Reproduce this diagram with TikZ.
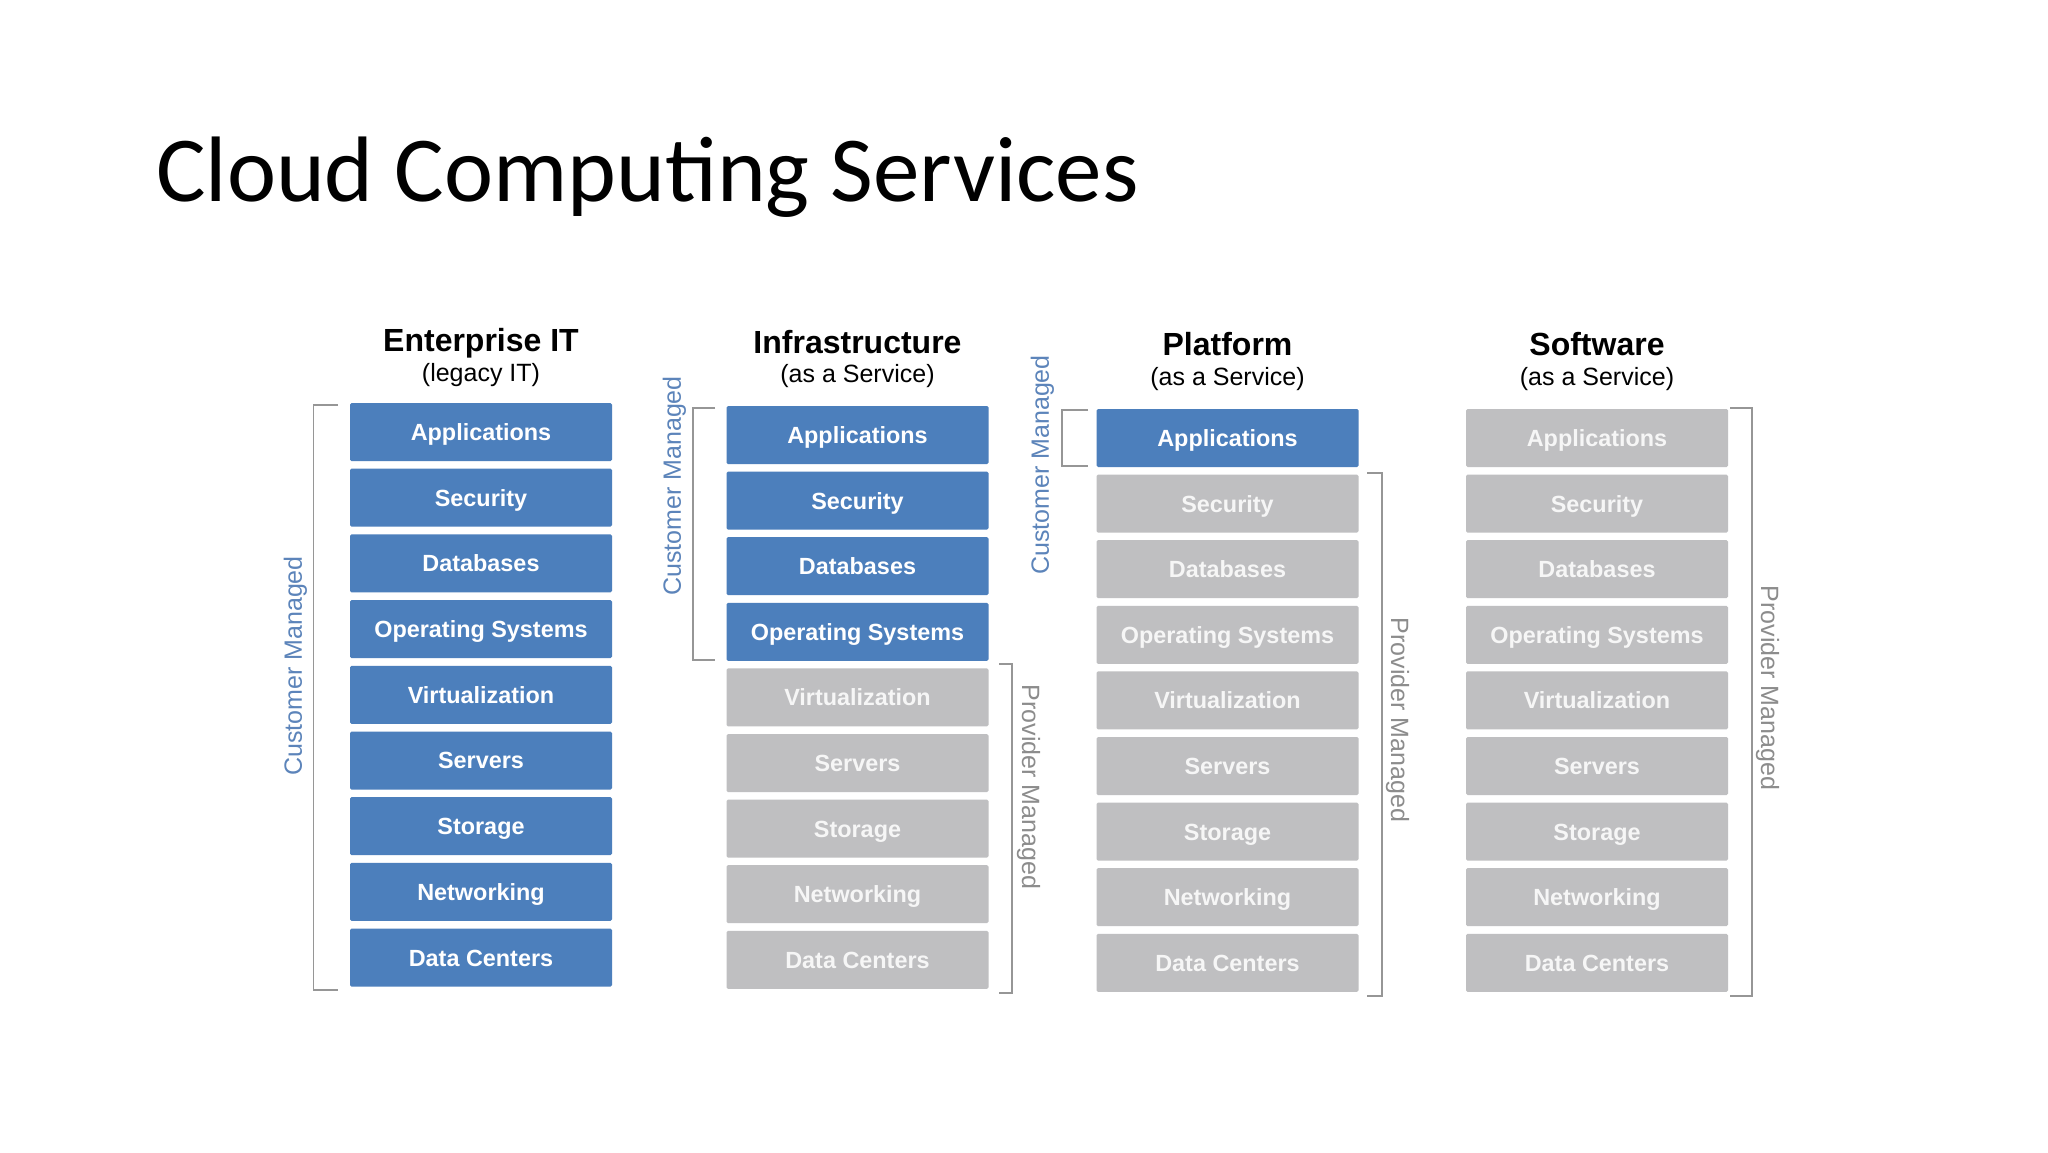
\documentclass[tikz,border=0pt]{standalone}
\usepackage{fontspec}
\setmainfont{Liberation Sans}
\newfontfamily\titlefont{Carlito}
\definecolor{boxblue}{RGB}{76,127,188}
\definecolor{boxgray}{RGB}{191,191,193}
\definecolor{graytext}{RGB}{246,246,246}
\definecolor{bracketgray}{RGB}{150,150,150}
\definecolor{custblue}{RGB}{92,132,186}
\definecolor{provgray}{RGB}{140,140,140}
\begin{document}
\begin{tikzpicture}[x=1pt,y=-1pt,
  layer/.style={minimum width=262pt, minimum height=58pt, inner sep=0pt,
    text height=16.8pt, text depth=0pt, rounded corners=1.5pt,
    font=\fontsize{23.4}{24}\selectfont\bfseries},
  bluelayer/.style={layer, fill=boxblue, text=white},
  graylayer/.style={layer, fill=boxgray, text=graytext},
  head/.style={anchor=base, inner sep=0pt, font=\fontsize{32}{34}\selectfont\bfseries},
  sub/.style={anchor=base, inner sep=0pt, font=\fontsize{25}{27}\selectfont},
  brack/.style={draw=bracketgray, line width=1.6pt},
  sidelabel/.style={inner sep=0pt, text height=17.9pt, text depth=0pt,
    font=\fontsize{25}{27}\selectfont},
  custlabel/.style={sidelabel, text=custblue, rotate=90},
  provlabel/.style={sidelabel, text=provgray, rotate=-90}]
\fill[white] (0,0) rectangle (2048,1152);
\useasboundingbox (0,0) rectangle (2048,1152);

% title
\node[anchor=base west, inner sep=0pt, font=\titlefont\fontsize{93}{100}\selectfont]
  (title) at (156,201) {Cloud Computing Services};

% headers
\node[head] (h1) at (481,351) {Enterprise IT};
\node[sub]  (s1) at (481,381) {(legacy IT)};
\node[head] (h2) at (857.5,353) {Infrastructure};
\node[sub]  (s2) at (857.5,382) {(as a Service)};
\node[head] (h3) at (1227.5,355) {Platform};
\node[sub]  (s3) at (1227.5,385) {(as a Service)};
\node[head] (h4) at (1597,355) {Software};
\node[sub]  (s4) at (1597,385) {(as a Service)};

% stacks
\foreach \t [count=\i from 0] in {Applications,Security,Databases,Operating Systems,Virtualization,Servers,Storage,Networking,Data Centers} {
  \node[bluelayer] (a\i) at (481, 432+\i*65.7) {\t};
  \ifnum\i<4 \def\stya{bluelayer}\else\def\stya{graylayer}\fi
  \node[\stya] (b\i) at (857.5, 435+\i*65.6) {\t};
  \ifnum\i<1 \def\styb{bluelayer}\else\def\styb{graylayer}\fi
  \node[\styb] (c\i) at (1227.5, 438+\i*65.6) {\t};
  \node[graylayer] (d\i) at (1597, 438+\i*65.6) {\t};
}

% brackets
\draw[brack] (338,405) -- (313.5,405) -- (313.5,990) -- (338,990);
\draw[brack] (715,408) -- (693,408) -- (693,660) -- (715,660);
\draw[brack] (999,664) -- (1012,664) -- (1012,993) -- (999,993);
\draw[brack] (1088,410) -- (1062,410) -- (1062,466) -- (1088,466);
\draw[brack] (1367,473) -- (1382,473) -- (1382,996) -- (1367,996);
\draw[brack] (1730,408) -- (1752,408) -- (1752,996) -- (1730,996);

% side labels
\node[custlabel] (l1) at (293,666) {Customer Managed};
\node[custlabel] (l2) at (672,486) {Customer Managed};
\node[custlabel] (l3) at (1040,465) {Customer Managed};
\node[provlabel] (p2) at (1031,787) {Provider Managed};
\node[provlabel] (p3) at (1400,720) {Provider Managed};
\node[provlabel] (p4) at (1770,688) {Provider Managed};
\end{tikzpicture}
\end{document}
